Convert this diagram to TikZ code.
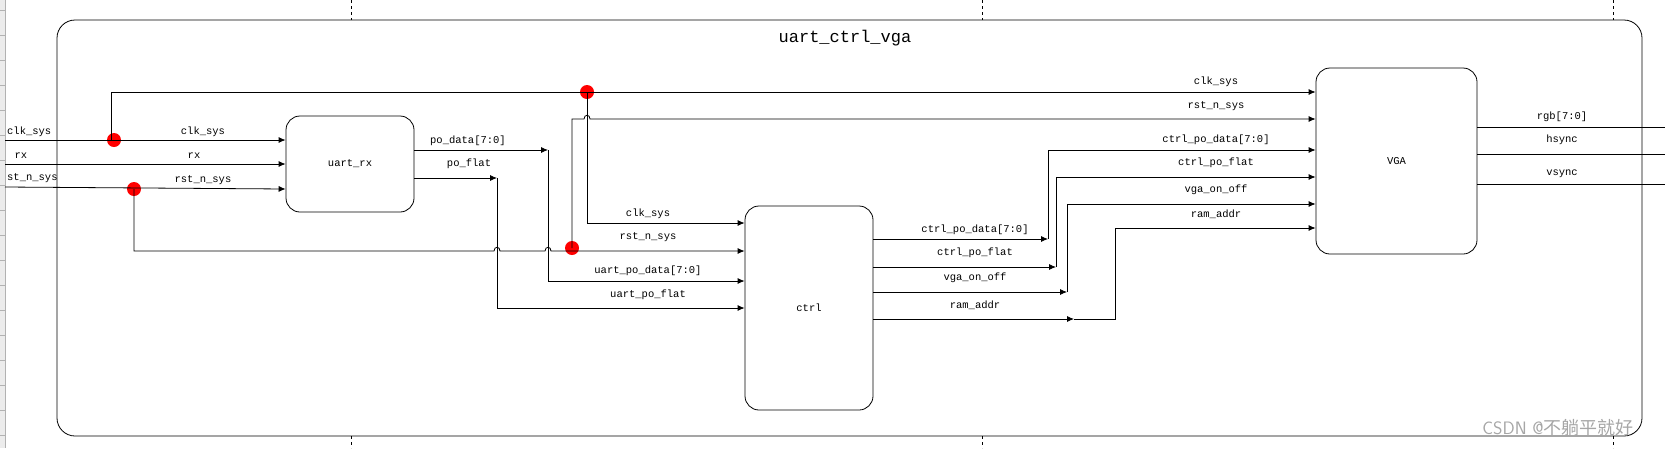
\documentclass[tikz,border=0pt]{standalone}
\usepackage{fontspec}
\setmainfont{Liberation Mono}
\newfontfamily\cjk{Noto Sans CJK SC}
\usetikzlibrary{arrows.meta}
\begin{document}
\begin{tikzpicture}[x=1pt,y=-1pt,
  blk/.style={draw,rounded corners=14pt,line width=0.8pt},
  wire/.style={line width=0.8pt},
  arr/.style={wire,-{Latex[length=7pt,width=6pt]}},
  lbl/.style={font=\fontsize{10.5}{11}\selectfont,inner sep=0pt},
  dot/.style={circle,fill=red,inner sep=0pt,minimum width=13pt,minimum height=14pt},
  guide/.style={dashed,line width=0.6pt}]
\useasboundingbox (0,0) rectangle (1665,448);
\fill[gray!15] (0,0) rectangle (5,448);
\draw[gray!60] (5,0) -- (5,448);
\foreach \y in {10,35,...,440} \draw[gray!60] (0,\y) -- (5,\y);
\foreach \x in {351,982,1613}{\draw[guide] (\x,0) -- (\x,20); \draw[guide] (\x,436) -- (\x,448);}
\draw[line width=0.8pt,rounded corners=18pt] (57,20) rectangle (1642,436);
\node[font=\fontsize{17}{18}\selectfont] (title) at (845,38) {uart\_ctrl\_vga};
% blocks
\node[blk,minimum width=128pt,minimum height=96pt] (urx) at (350,164) {};
\node[lbl] at (urx) {uart\_rx};
\node[blk,minimum width=128pt,minimum height=204pt] (ctrl) at (809,308) {};
\node[lbl] at (ctrl) {ctrl};
\node[blk,minimum width=161pt,minimum height=186pt] (vga) at (1396.5,161) {};
\node[lbl] at (vga) {VGA};
% inputs
\coordinate (iclk) at (5,140);
\coordinate (irx) at (5,164);
\coordinate (irst) at (5,187);
\node[dot] (d1) at (114,140) {};
\node[dot] (d2) at (134,189) {};
\node[dot] (d3) at (587,92) {};
\node[dot] (d4) at (572,248) {};
\draw[arr] (iclk) -- (urx.west|-iclk);
\draw[arr] (irx) -- (urx.west|-irx);
\draw[arr] (irst) -- (urx.west|-0,189);
\node[lbl,anchor=west] at (7,132) {clk\_sys};
\node[lbl] at (21,156) {rx};
\node[lbl,anchor=west] at (7,178) {st\_n\_sys};
\node[lbl] at (203,132) {clk\_sys};
\node[lbl] at (194,156) {rx};
\node[lbl] at (203,180) {rst\_n\_sys};
% clk to vga and ctrl
\draw[arr] (d1.center) -- (111,140) -- (111,92) -- (vga.west|-0,92);
\draw[arr] (d3.center) -- (587,223) -- (ctrl.west|-0,223);
% rst
\draw[arr] (d2.center) -- (134,251) -- (494,251) .. controls (494,246) and (500,246) .. (500,251)
  -- (545,251) .. controls (545,246) and (551,246) .. (551,251) -- (ctrl.west|-0,251);
\draw[arr] (d4.center) -- (572,119) -- (584,119) .. controls (584,114) and (590,114) .. (590,119) -- (vga.west|-0,119);
% uart_rx outputs
\draw[arr] (urx.east|-0,150) -- (548,150);
\draw[arr] (548,150) -- (548,281) -- (ctrl.west|-0,281);
\draw[arr] (urx.east|-0,178) -- (497,178);
\draw[arr] (497,178) -- (497,308) -- (ctrl.west|-0,308);
\node[lbl] at (468,141) {po\_data[7:0]};
\node[lbl] at (469,164) {po\_flat};
\node[lbl] at (648,214) {clk\_sys};
\node[lbl] at (648,237) {rst\_n\_sys};
\node[lbl] at (648,271) {uart\_po\_data[7:0]};
\node[lbl] at (648,295) {uart\_po\_flat};
% ctrl outputs
\draw[arr] (ctrl.east|-0,239) -- (1048,239);
\draw[arr] (1048,239) -- (1048,150) -- (vga.west|-0,150);
\draw[arr] (ctrl.east|-0,267) -- (1056,267);
\draw[arr] (1056,267) -- (1056,177) -- (vga.west|-0,177);
\draw[arr] (ctrl.east|-0,292) -- (1067,292);
\draw[arr] (1067,292) -- (1067,204) -- (vga.west|-0,204);
\draw[arr] (ctrl.east|-0,319) -- (1074,319);
\draw[arr] (1074,319) -- (1115,319) -- (1115,228) -- (vga.west|-0,228);
\node[lbl] at (975,230) {ctrl\_po\_data[7:0]};
\node[lbl] at (975,253) {ctrl\_po\_flat};
\node[lbl] at (975,278) {vga\_on\_off};
\node[lbl] at (975,305) {ram\_addr};
\node[lbl] at (1216,82) {clk\_sys};
\node[lbl] at (1216,106) {rst\_n\_sys};
\node[lbl] at (1216,140) {ctrl\_po\_data[7:0]};
\node[lbl] at (1216,163) {ctrl\_po\_flat};
\node[lbl] at (1216,190) {vga\_on\_off};
\node[lbl] at (1216,214) {ram\_addr};
% vga outputs
\coordinate (orgb) at (1665,127);
\coordinate (ohs) at (1665,154);
\coordinate (ovs) at (1665,184);
\draw[wire] (vga.east|-orgb) -- (orgb);
\draw[wire] (vga.east|-ohs) -- (ohs);
\draw[wire] (vga.east|-ovs) -- (ovs);
\node[lbl] at (1562,117) {rgb[7:0]};
\node[lbl] at (1562,140) {hsync};
\node[lbl] at (1562,174) {vsync};
\node[text=gray!70,font=\fontsize{18}{19}\selectfont\sffamily] at (1558,428) {CSDN @{\cjk 不躺平就好}};
\end{tikzpicture}
\end{document}
